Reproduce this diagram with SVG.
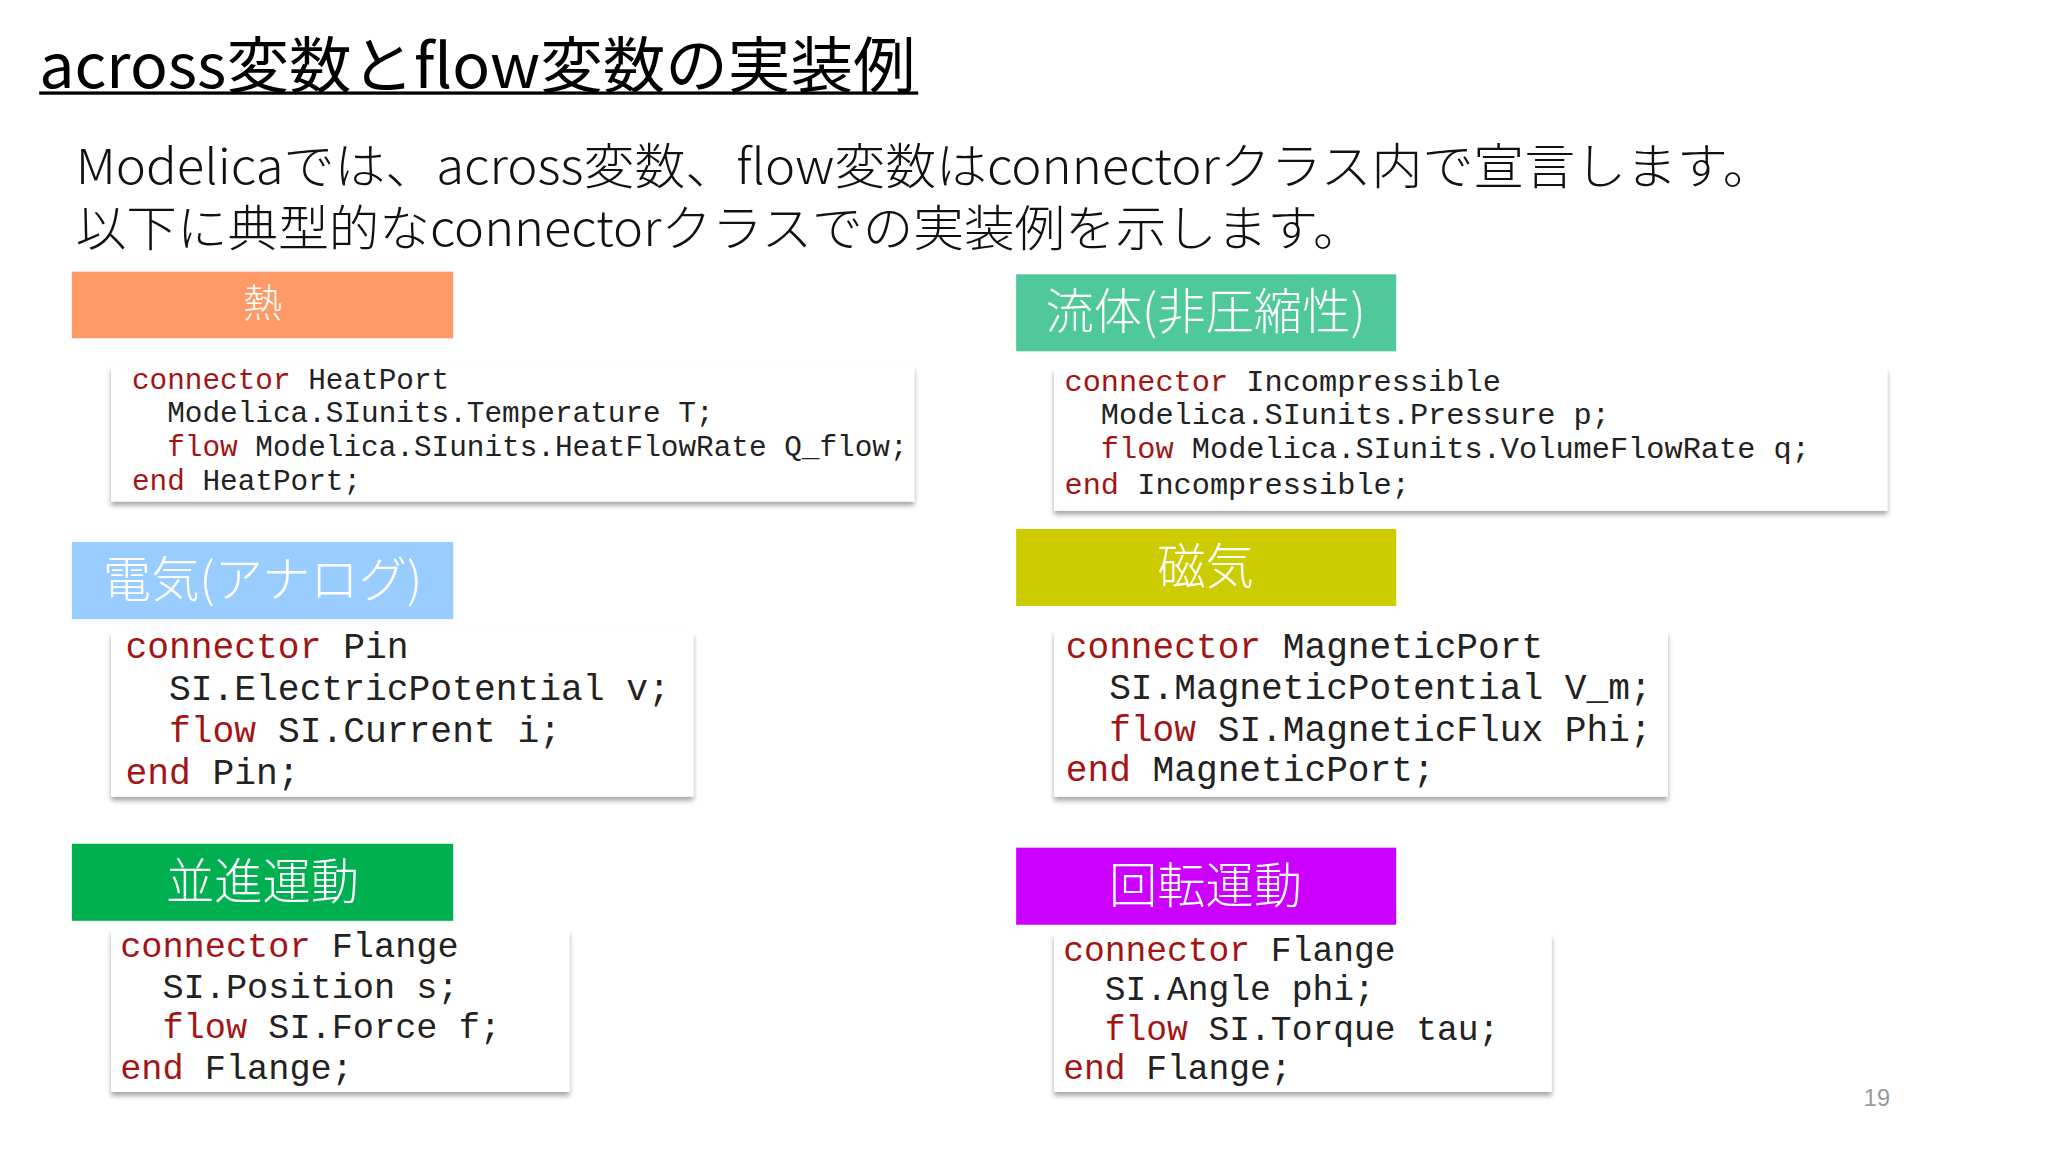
<svg xmlns="http://www.w3.org/2000/svg" width="2048" height="1152" viewBox="0 0 2048 1152">
<style>
.jp{font-family:"Noto Sans CJK JP","Noto Sans",sans-serif}
.lb{font-family:"Noto Sans CJK JP",sans-serif;fill:#fff;text-anchor:middle;font-weight:300}
.cb{fill:#fff;filter:url(#sh)}
.code{font-family:"Liberation Mono","Courier New",monospace;fill:#222;white-space:pre}
.kw{fill:#A31515}
</style>
<defs>
<filter id="sh" x="-5%" y="-5%" width="110%" height="120%"><feDropShadow dx="0" dy="3" stdDeviation="2" flood-color="#000" flood-opacity="0.35"/></filter>
</defs>
<rect width="2048" height="1152" fill="#fff"/>
<g transform="scale(1.30612)">
<g id="title">
<text x="30" y="67" class="jp" font-size="47" fill="#000" textLength="671" lengthAdjust="spacingAndGlyphs">across変数とflow変数の実装例</text>
<rect x="30" y="70" width="673" height="2.5" fill="#000"/>
</g>
<g id="intro" class="jp" font-size="37" fill="#111" font-weight="300">
<text x="58" y="141" textLength="1300" lengthAdjust="spacingAndGlyphs">Modelicaでは、across変数、flow変数はconnectorクラス内で宣言します。</text>
<text x="58" y="188" textLength="986" lengthAdjust="spacingAndGlyphs">以下に典型的なconnectorクラスでの実装例を示します。</text>
</g>
<g id="heat">
<rect x="55" y="208" width="292" height="51" fill="#FF9966"/>
<text x="201" y="243" class="lb" font-size="30">熱</text>
<rect x="85" y="280" width="615" height="104" class="cb"/>
<text class="code" font-size="22.5" xml:space="preserve"><tspan x="101" y="298"><tspan class="kw">connector</tspan> HeatPort</tspan><tspan x="101" y="323">  Modelica.SIunits.Temperature T;</tspan><tspan x="101" y="349">  <tspan class="kw">flow</tspan> Modelica.SIunits.HeatFlowRate Q_flow;</tspan><tspan x="101" y="375"><tspan class="kw">end</tspan> HeatPort;</tspan></text>
</g>
<g id="fluid">
<rect x="778" y="210" width="291" height="59" fill="#4FC99B"/>
<text x="923" y="252" class="lb" font-size="37">流体(非圧縮性)</text>
<rect x="807" y="282" width="638" height="109" class="cb"/>
<text class="code" font-size="23.2" xml:space="preserve"><tspan x="815" y="299"><tspan class="kw">connector</tspan> Incompressible</tspan><tspan x="815" y="325">  Modelica.SIunits.Pressure p;</tspan><tspan x="815" y="351">  <tspan class="kw">flow</tspan> Modelica.SIunits.VolumeFlowRate q;</tspan><tspan x="815" y="378"><tspan class="kw">end</tspan> Incompressible;</tspan></text>
</g>
<g id="elec">
<rect x="55" y="415" width="292" height="59" fill="#99CCFF"/>
<text x="201" y="457" class="lb" font-size="37">電気(アナログ)</text>
<rect x="85" y="484" width="446" height="126" class="cb"/>
<text class="code" font-size="27.8" xml:space="preserve"><tspan x="96" y="504"><tspan class="kw">connector</tspan> Pin</tspan><tspan x="96" y="536">  SI.ElectricPotential v;</tspan><tspan x="96" y="568">  <tspan class="kw">flow</tspan> SI.Current i;</tspan><tspan x="96" y="600"><tspan class="kw">end</tspan> Pin;</tspan></text>
</g>
<g id="mag">
<rect x="778" y="405" width="291" height="59" fill="#CCCC00"/>
<text x="923" y="447" class="lb" font-size="37">磁気</text>
<rect x="807" y="483" width="470" height="127" class="cb"/>
<text class="code" font-size="27.7" xml:space="preserve"><tspan x="816" y="504"><tspan class="kw">connector</tspan> MagneticPort</tspan><tspan x="816" y="535">  SI.MagneticPotential V_m;</tspan><tspan x="816" y="567">  <tspan class="kw">flow</tspan> SI.MagneticFlux Phi;</tspan><tspan x="816" y="598"><tspan class="kw">end</tspan> MagneticPort;</tspan></text>
</g>
<g id="trans">
<rect x="55" y="646" width="292" height="59" fill="#00B050"/>
<text x="201" y="688" class="lb" font-size="37">並進運動</text>
<rect x="85" y="712" width="351" height="124" class="cb"/>
<text class="code" font-size="27" xml:space="preserve"><tspan x="92" y="733"><tspan class="kw">connector</tspan> Flange</tspan><tspan x="92" y="764">  SI.Position s;</tspan><tspan x="92" y="795">  <tspan class="kw">flow</tspan> SI.Force f;</tspan><tspan x="92" y="826"><tspan class="kw">end</tspan> Flange;</tspan></text>
</g>
<g id="rot">
<rect x="778" y="649" width="291" height="59" fill="#CC00FF"/>
<text x="923" y="691" class="lb" font-size="37">回転運動</text>
<rect x="807" y="715" width="381" height="121" class="cb"/>
<text class="code" font-size="26.5" xml:space="preserve"><tspan x="814" y="736"><tspan class="kw">connector</tspan> Flange</tspan><tspan x="814" y="766">  SI.Angle phi;</tspan><tspan x="814" y="796">  <tspan class="kw">flow</tspan> SI.Torque tau;</tspan><tspan x="814" y="826"><tspan class="kw">end</tspan> Flange;</tspan></text>
</g>
<text id="page" x="1437" y="847" font-family="Liberation Sans,sans-serif" font-size="18" fill="#999" text-anchor="middle">19</text>
</g>
<g id="connectors"/>
</svg>
